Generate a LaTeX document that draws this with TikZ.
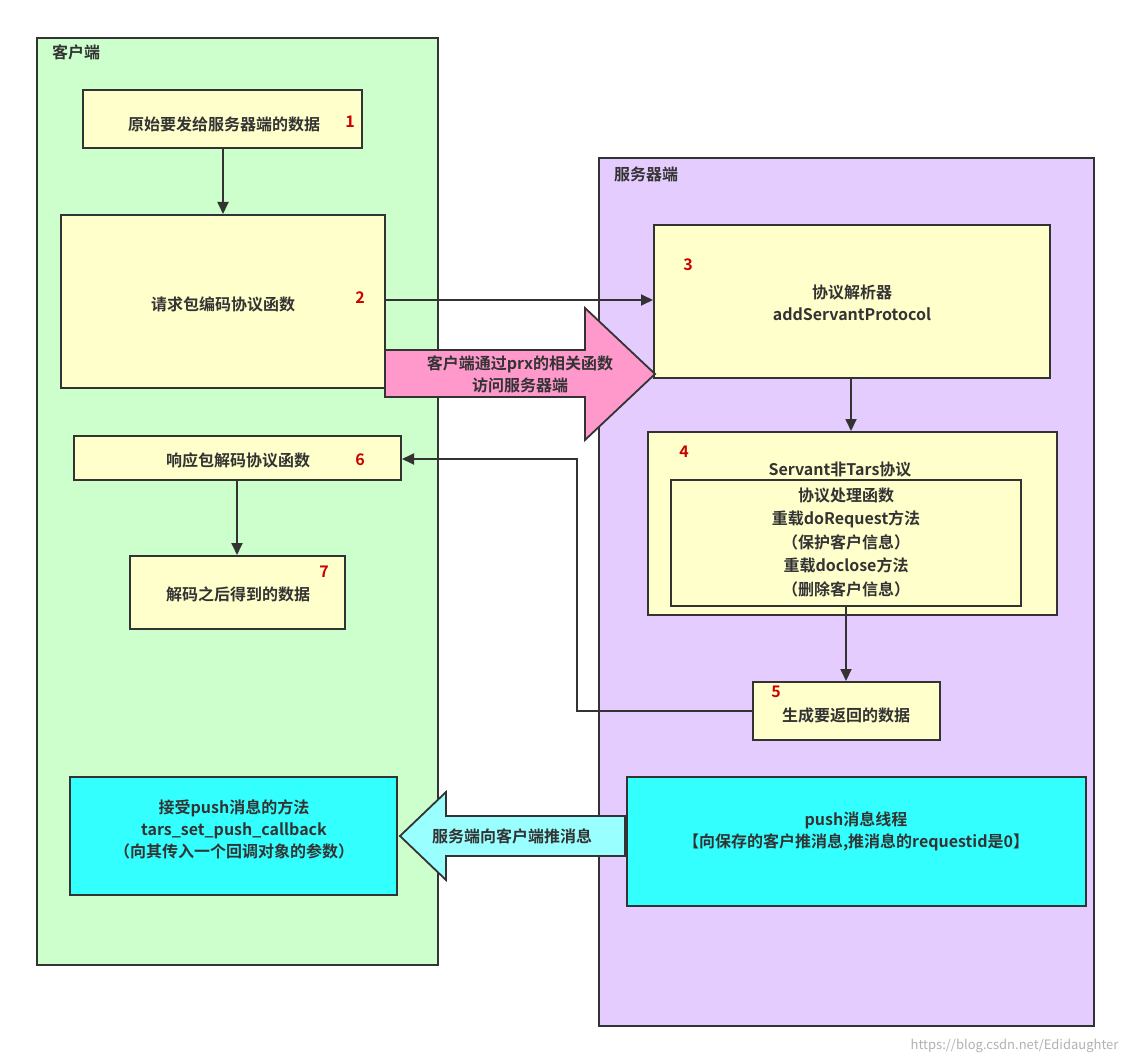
\documentclass[tikz,border=0pt]{standalone}
\usepackage{fontspec}
\setmainfont{Noto Sans CJK SC}[BoldFont={Noto Sans CJK SC Bold}]
\usetikzlibrary{arrows.meta}
\definecolor{ln}{HTML}{333333}
\definecolor{cg}{HTML}{CCFFCC}
\definecolor{sp}{HTML}{E5CCFF}
\definecolor{yb}{HTML}{FFFFCC}
\definecolor{cy}{HTML}{33FFFF}
\definecolor{pk}{HTML}{FF99CC}
\definecolor{lb}{HTML}{99FFFF}
\definecolor{rd}{HTML}{CC0000}
\begin{document}
\begin{tikzpicture}[x=1pt,y=-1pt,font=\bfseries\fontsize{16}{22}\selectfont,
 bx/.style={draw=ln,line width=1.8pt},
 ar/.style={draw=ln,line width=1.8pt,-{Triangle[length=12pt,width=11pt]}},
 num/.style={text=rd,font=\bfseries\fontsize{16}{18}\selectfont},
 tx/.style={text=ln,align=center,inner sep=0pt}]
\useasboundingbox (0,0) rectangle (1131,1064);
\fill[white] (0,0) rectangle (1131,1064);
\draw[bx,fill=cg] (37,38) rectangle (438,965);
\node[tx,anchor=west] (cl) at (52,52) {客户端};
\draw[bx,fill=sp] (599,158) rectangle (1094,1026);
\node[tx,anchor=west] (sv) at (614,174) {服务器端};
% boxes
\draw[bx,fill=yb] (83,90) rectangle (362,148);
\node[tx] (b1) at (224,124) {原始要发给服务器端的数据};
\node[num] at (350,122) {1};
\draw[bx,fill=yb] (61,215) rectangle (385,388);
\node[tx] (b2) at (223,304) {请求包编码协议函数};
\node[num] at (360,298) {2};
\draw[bx,fill=yb] (654,225) rectangle (1050,378);
\node[tx] (b3) at (852,303) {协议解析器\\addServantProtocol};
\node[num] at (688,265) {3};
\draw[bx,fill=yb] (648,432) rectangle (1057,615);
\node[tx] (b4) at (840,470) {Servant非Tars协议};
\node[num] at (684,452) {4};
\draw[bx,fill=yb] (671,480) rectangle (1021,606);
\node[tx,font=\bfseries\fontsize{16}{23.5}\selectfont] (b4i) at (846,542) {协议处理函数\\重载doRequest方法\\（保护客户信息）\\重载doclose方法\\（删除客户信息）};
\draw[bx,fill=yb] (753,682) rectangle (940,740);
\node[tx] (b5) at (846,715) {生成要返回的数据};
\node[num] at (776,692) {5};
\draw[bx,fill=yb] (74,436) rectangle (401,480);
\node[tx] (b6) at (238,460) {响应包解码协议函数};
\node[num] at (360,460) {6};
\draw[bx,fill=yb] (130,556) rectangle (345,629);
\node[tx] (b7) at (238,594) {解码之后得到的数据};
\node[num] at (324,572) {7};
\draw[bx,fill=cy] (70,777) rectangle (397,895);
\node[tx] (c1) at (234,829) {接受push消息的方法\\tars\_set\_push\_callback\\（向其传入一个回调对象的参数）};
\draw[bx,fill=cy] (627,777) rectangle (1086,906);
\node[tx] (c2) at (856,831) {push消息线程\\【向保存的客户推消息,推消息的requestid是0】};
% big arrows
\draw[line width=1.8pt,draw=ln,fill=pk] (385,350) -- (585,350) -- (585,308) -- (655,374) -- (585,440) -- (585,397) -- (385,397) -- cycle;
\node[tx] (pa) at (520,374) {客户端通过prx的相关函数\\访问服务器端};
\draw[line width=1.8pt,draw=ln,fill=lb] (625,816) -- (446,816) -- (446,792) -- (400,836) -- (446,880) -- (446,856) -- (625,856) -- cycle;
\node[tx] (la) at (512,836) {服务端向客户端推消息};
% connectors
\coordinate (p1) at (223,148); \coordinate (p2) at (223,214);
\draw[ar] (p1) -- (p2);
\coordinate (q1) at (385,300); \coordinate (q2) at (653,300);
\draw[ar] (q1) -- (q2);
\coordinate (r1) at (851,378); \coordinate (r2) at (851,431);
\draw[ar] (r1) -- (r2);
\coordinate (s1) at (846,606); \coordinate (s2) at (846,681);
\draw[ar] (s1) -- (s2);
\coordinate (u1) at (237,480); \coordinate (u2) at (237,555);
\draw[ar] (u1) -- (u2);
\coordinate (t1) at (753,711); \coordinate (t2) at (402,459);
\draw[ar] (t1) -- (577,711) -- (577,459) -- (t2);
\node[text=gray!60,font=\fontsize{13}{15}\selectfont,anchor=east] at (1122,1046) {https://blog.csdn.net/Edidaughter};
\end{tikzpicture}
\end{document}
